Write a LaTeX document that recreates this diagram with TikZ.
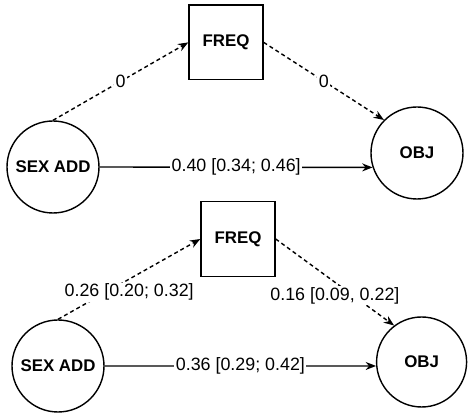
\documentclass[tikz,border=0pt]{standalone}
\usepackage{fontspec}
\setmainfont{Liberation Sans}
\usepackage{tikz}
\usetikzlibrary{arrows.meta,positioning}

\begin{document}
\begin{tikzpicture}[
  var/.style={circle,draw,line width=1pt,minimum size=2.3cm,inner sep=0pt,
              align=center,font=\fontsize{12}{14}\selectfont\bfseries},
  med/.style={rectangle,draw,line width=1pt,minimum width=1.85cm,
              minimum height=1.87cm,align=center,font=\fontsize{12}{14}\selectfont\bfseries},
  fl/.style={-{Stealth[length=0.26cm,width=0.2cm]},line width=1pt},
  dfl/.style={-{Stealth[length=0.26cm,width=0.2cm]},line width=1pt,
              dash pattern=on 2.8pt off 2.2pt},
  lbl/.style={fill=white,inner sep=1pt,font=\fontsize{12.7}{14}\selectfont}
]
  \useasboundingbox (0,0) rectangle (11.85,10.45);

  % upper model
  \node[med](freqA) at (5.65,9.39)  {FREQ};
  \node[var](sexA)  at (1.325,6.275){SEX ADD};
  \node[var](objA)  at (10.425,6.625){OBJ};

  \draw[dfl](sexA.north)--node[lbl]{0}(freqA.west);
  \draw[dfl](freqA.east)--node[lbl]{0}(objA.135);
  \draw[fl](sexA.east)--node[lbl]{0.40 [0.34; 0.46]}(objA.198);

  % lower model
  \node[med](freqB) at (5.95,4.475) {FREQ};
  \node[var](sexB)  at (1.45,1.3)   {SEX ADD};
  \node[var,minimum size=2.25cm](objB) at (10.54,1.4){OBJ};

  \draw[dfl](sexB.north)--node[lbl,yshift=-0.33cm]{0.26 [0.20; 0.32]}(freqB.west);
  \draw[dfl](freqB.east)--node[lbl,yshift=-0.33cm]{0.16 [0.09, 0.22]}(objB.127);
  \draw[fl](sexB.east)--node[lbl]{0.36 [0.29; 0.42]}(objB.185);
\end{tikzpicture}
\end{document}
